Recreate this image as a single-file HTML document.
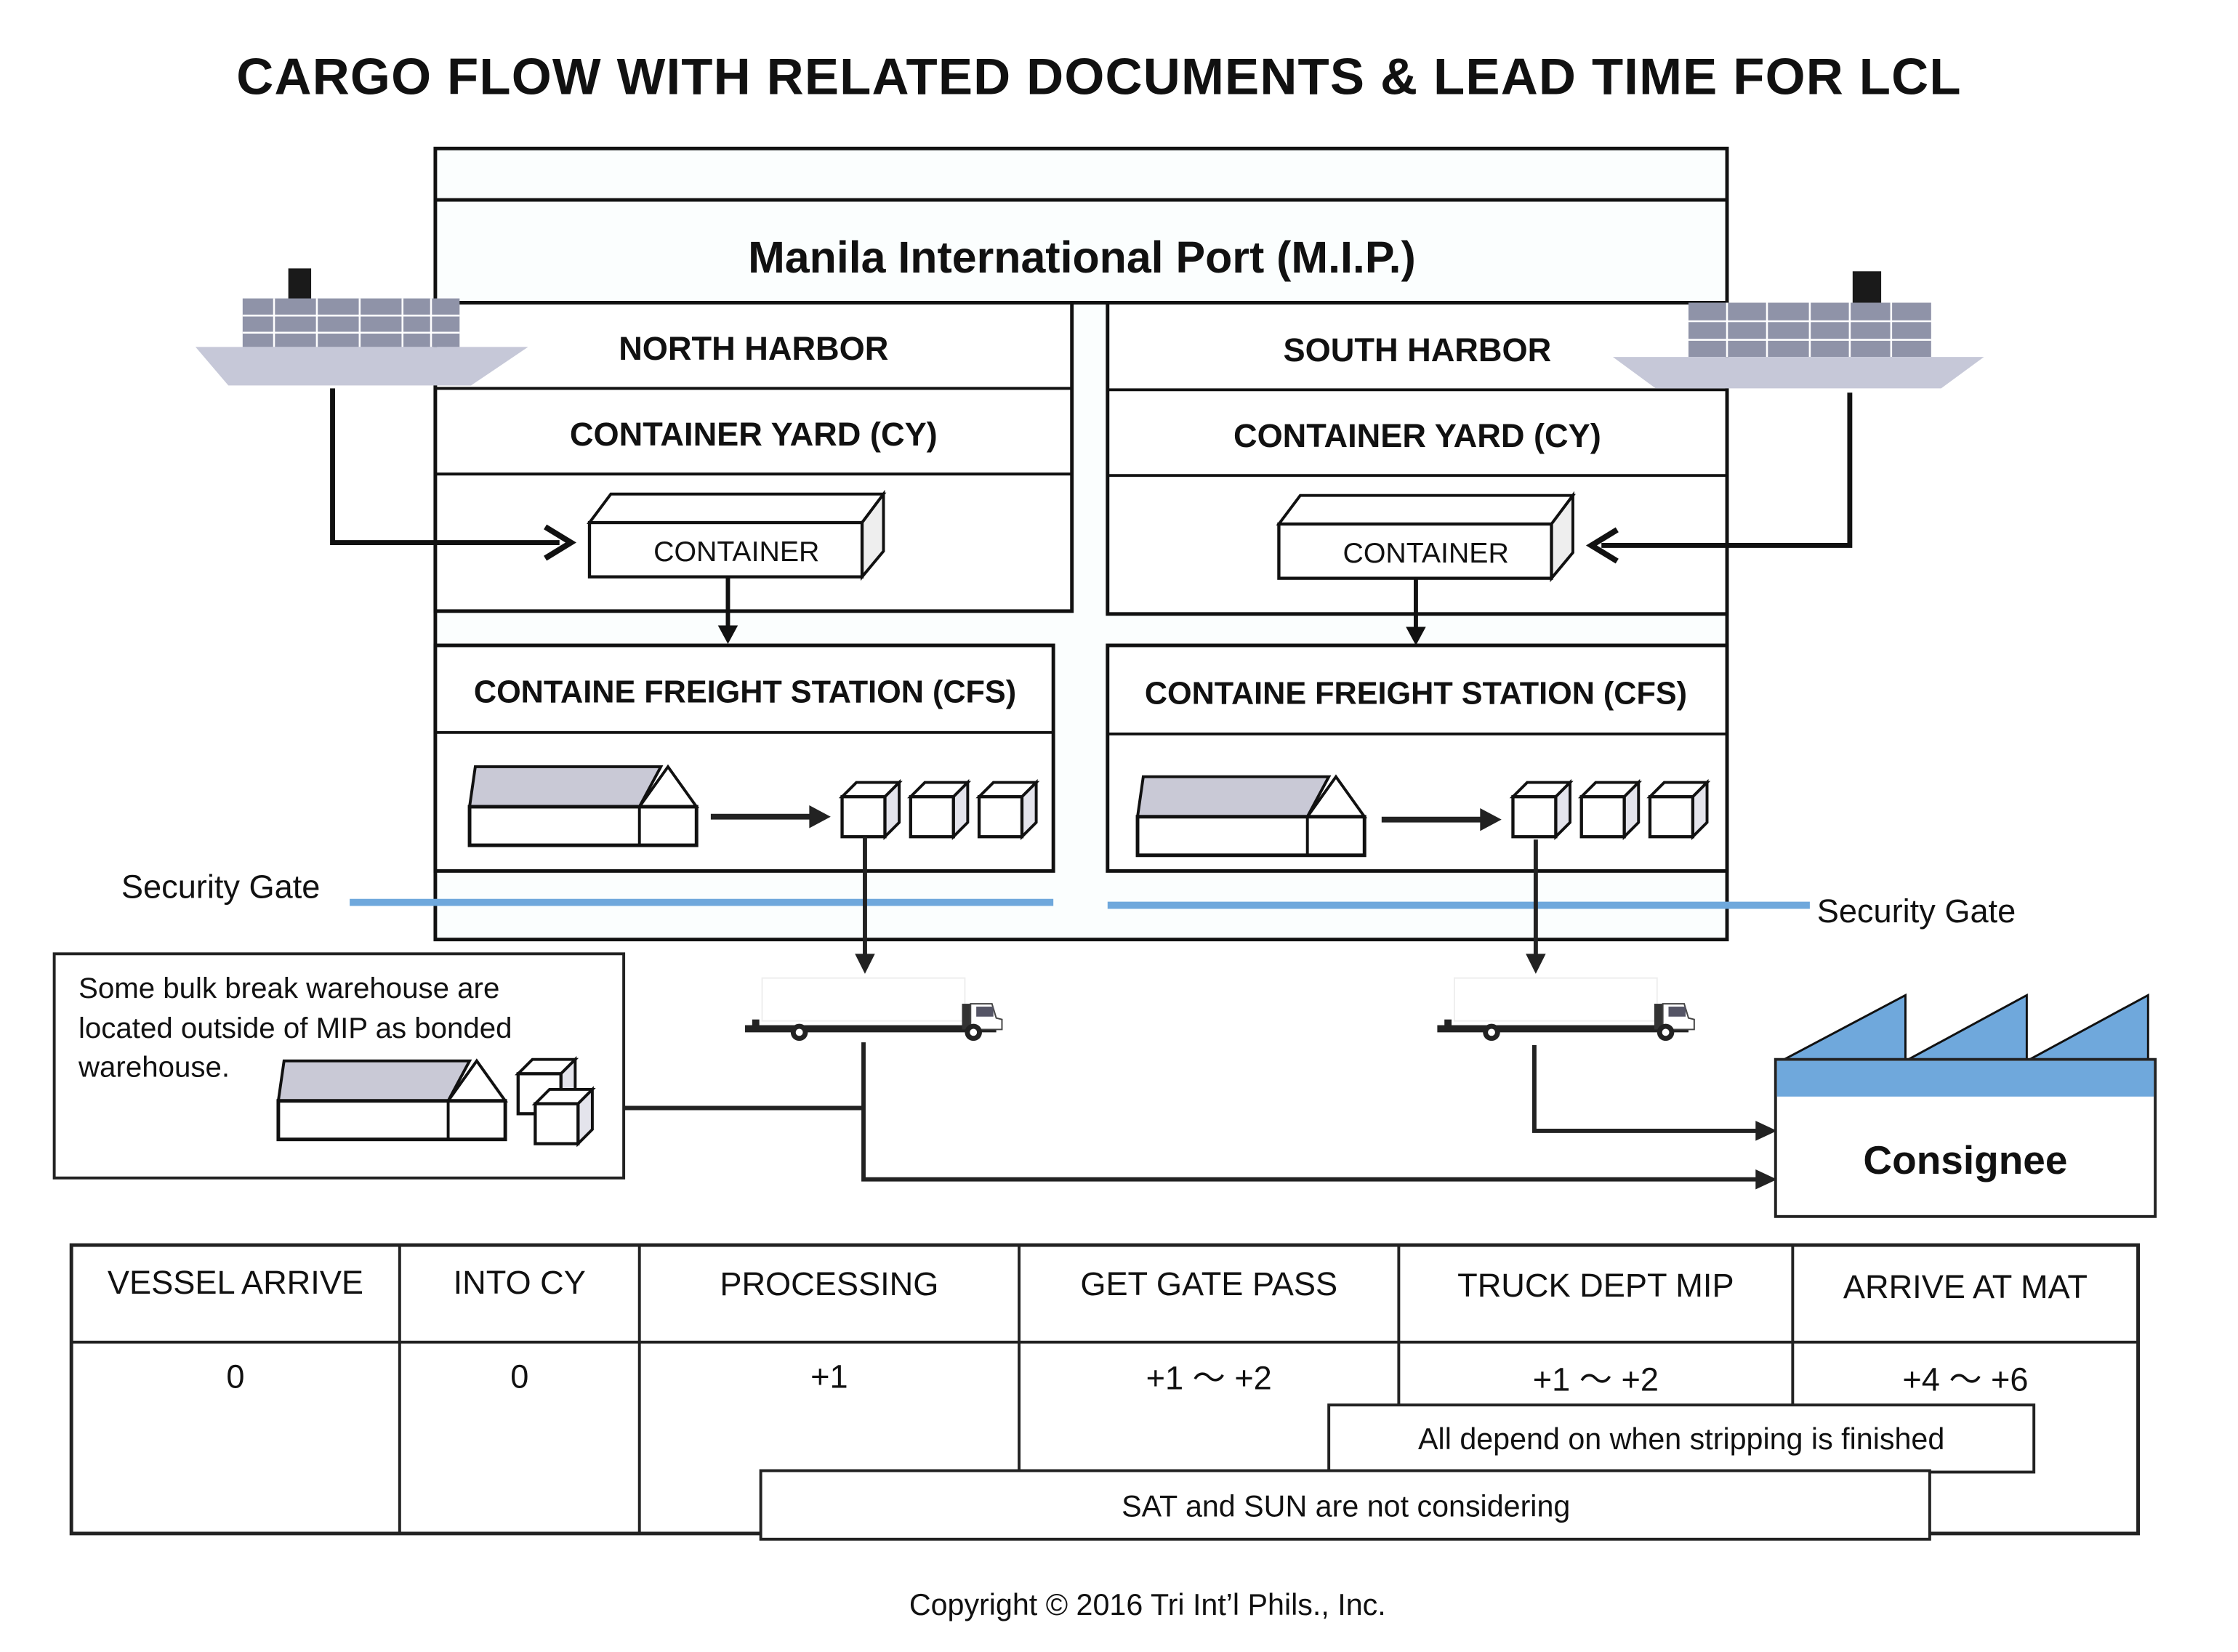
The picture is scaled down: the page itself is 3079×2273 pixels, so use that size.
<!DOCTYPE html>
<html><head><meta charset="utf-8"><style>
html,body{margin:0;padding:0;background:#fff;}
svg{display:block;}
text{font-family:"Liberation Sans",Arial,sans-serif;fill:#111;}
</style></head><body>
<svg width="3079" height="2273" viewBox="0 0 1568 1157" preserveAspectRatio="none" xmlns="http://www.w3.org/2000/svg">
<defs>
<g id="house">
  <polygon points="333,537 463,537 448,565 329,565" fill="#c9c9d6" stroke="#111" stroke-width="2"/>
  <polygon points="448,565 468,537 488,565" fill="#fff" stroke="#111" stroke-width="2"/>
  <rect x="329" y="565" width="159" height="27" fill="#fff" stroke="#111" stroke-width="2.5"/>
  <line x1="448" y1="565" x2="448" y2="592" stroke="#111" stroke-width="2"/>
</g>
<g id="cube">
  <polygon points="0,0 10,-10 40,-10 30,0" fill="#fff" stroke="#111" stroke-width="2"/>
  <polygon points="30,0 40,-10 40,18 30,28" fill="#e4e4ec" stroke="#111" stroke-width="2"/>
  <rect x="0" y="0" width="30" height="28" fill="#fff" stroke="#111" stroke-width="2.2"/>
</g>
<g id="truck">
  <rect x="12" y="2" width="142" height="30" fill="#fff" stroke="#eee" stroke-width="1"/>
  <rect x="0" y="35" width="176" height="5" fill="#222"/>
  <rect x="5" y="31" width="5" height="8" fill="#222"/>
  <rect x="152" y="20" width="6" height="18" fill="#333"/>
  <path d="M158,20 L173,20 L176,30 L180,31 L180,38 L158,38 Z" fill="#fff" stroke="#444" stroke-width="1"/>
  <rect x="162" y="22" width="12" height="7" fill="#556"/>
  <circle cx="38" cy="40" r="6" fill="#222"/><circle cx="38" cy="40" r="2.5" fill="#fff"/>
  <circle cx="160" cy="40" r="6" fill="#222"/><circle cx="160" cy="40" r="2.5" fill="#fff"/>
</g>
</defs>

<text x="770" y="66" font-size="36" font-weight="bold" text-anchor="middle" letter-spacing="0.6">CARGO FLOW WITH RELATED DOCUMENTS &amp; LEAD TIME FOR LCL</text>

<rect x="305" y="104" width="905" height="554" fill="#fbfefe" stroke="#111" stroke-width="2.5"/>
<line x1="305" y1="140" x2="1210" y2="140" stroke="#111" stroke-width="2.5"/>
<line x1="305" y1="212" x2="1210" y2="212" stroke="#111" stroke-width="2.5"/>
<text x="758" y="191" font-size="31" font-weight="bold" text-anchor="middle">Manila International Port (M.I.P.)</text>

<rect x="305" y="212" width="446" height="216" fill="#fff" stroke="#111" stroke-width="2.5"/>
<line x1="305" y1="272" x2="751" y2="272" stroke="#111" stroke-width="2"/>
<line x1="305" y1="332" x2="751" y2="332" stroke="#111" stroke-width="2"/>
<text x="528" y="252" font-size="23" font-weight="bold" text-anchor="middle">NORTH HARBOR</text>
<text x="528" y="312" font-size="23" font-weight="bold" text-anchor="middle">CONTAINER YARD (CY)</text>
<rect x="776" y="212" width="434" height="218" fill="#fff" stroke="#111" stroke-width="2.5"/>
<line x1="776" y1="273" x2="1210" y2="273" stroke="#111" stroke-width="2"/>
<line x1="776" y1="333" x2="1210" y2="333" stroke="#111" stroke-width="2"/>
<text x="993" y="253" font-size="23" font-weight="bold" text-anchor="middle">SOUTH HARBOR</text>
<text x="993" y="313" font-size="23" font-weight="bold" text-anchor="middle">CONTAINER YARD (CY)</text>

<g>
<polygon points="413,366 428,346 619,346 604,366" fill="#fff" stroke="#111" stroke-width="2"/>
<polygon points="604,366 619,346 619,386 604,404" fill="#eee" stroke="#111" stroke-width="2"/>
<rect x="413" y="366" width="191" height="38" fill="#fff" stroke="#111" stroke-width="2.2"/>
<text x="516" y="393" font-size="20" text-anchor="middle">CONTAINER</text>
</g>
<g transform="translate(483,1)">
<polygon points="413,366 428,346 619,346 604,366" fill="#fff" stroke="#111" stroke-width="2"/>
<polygon points="604,366 619,346 619,386 604,404" fill="#eee" stroke="#111" stroke-width="2"/>
<rect x="413" y="366" width="191" height="38" fill="#fff" stroke="#111" stroke-width="2.2"/>
<text x="516" y="393" font-size="20" text-anchor="middle">CONTAINER</text>
</g>

<line x1="510" y1="404" x2="510" y2="440" stroke="#111" stroke-width="3"/>
<polygon points="503,438 517,438 510,451" fill="#111"/>
<line x1="992" y1="405" x2="992" y2="441" stroke="#111" stroke-width="3"/>
<polygon points="985,439 999,439 992,452" fill="#111"/>

<rect x="305" y="452" width="433" height="158" fill="#fff" stroke="#111" stroke-width="2.5"/>
<line x1="305" y1="513" x2="738" y2="513" stroke="#111" stroke-width="2"/>
<text x="522" y="492" font-size="22" font-weight="bold" text-anchor="middle">CONTAINE FREIGHT STATION (CFS)</text>
<rect x="776" y="452" width="434" height="158" fill="#fff" stroke="#111" stroke-width="2.5"/>
<line x1="776" y1="514" x2="1210" y2="514" stroke="#111" stroke-width="2"/>
<text x="992" y="493" font-size="22" font-weight="bold" text-anchor="middle">CONTAINE FREIGHT STATION (CFS)</text>

<use href="#house"/>
<line x1="498" y1="572" x2="570" y2="572" stroke="#222" stroke-width="4"/>
<polygon points="567,564 582,572 567,580" fill="#222"/>
<use href="#cube" x="590" y="558"/>
<use href="#cube" x="638" y="558"/>
<use href="#cube" x="686" y="558"/>

<g transform="translate(468,7)">
<use href="#house"/>
<line x1="500" y1="567" x2="572" y2="567" stroke="#222" stroke-width="4"/>
<polygon points="569,559 584,567 569,575" fill="#222"/>
</g>
<use href="#cube" x="1060" y="558"/>
<use href="#cube" x="1108" y="558"/>
<use href="#cube" x="1156" y="558"/>

<line x1="245" y1="632" x2="738" y2="632" stroke="#6fa8dc" stroke-width="5"/>
<line x1="776" y1="634" x2="1268" y2="634" stroke="#6fa8dc" stroke-width="5"/>
<text x="85" y="629" font-size="23">Security Gate</text>
<text x="1273" y="646" font-size="23">Security Gate</text>

<g>
<rect x="202" y="188" width="16" height="22" fill="#1a1a1a"/>
<rect x="170" y="209" width="152" height="34" fill="#8f93a8"/>
<path d="M170,221 H322 M170,233 H322 M192,209 V243 M222,209 V243 M252,209 V243 M282,209 V243 M302,209 V243" stroke="#fff" stroke-width="1.3"/>
<polygon points="137,243 370,243 330,270 160,270" fill="#c6c8d8"/>
</g>
<g>
<rect x="1298" y="190" width="20" height="22" fill="#1a1a1a"/>
<rect x="1183" y="212" width="170" height="38" fill="#8f93a8"/>
<path d="M1183,225 H1353 M1183,238 H1353 M1210,212 V250 M1238,212 V250 M1268,212 V250 M1296,212 V250 M1325,212 V250" stroke="#fff" stroke-width="1.3"/>
<polygon points="1130,250 1390,250 1360,272 1160,272" fill="#c6c8d8"/>
</g>

<polyline points="233,272 233,380 392,380" fill="none" stroke="#111" stroke-width="3.5"/>
<polyline points="382,369 400,380 382,391" fill="none" stroke="#111" stroke-width="4"/>
<polyline points="1296,275 1296,382 1122,382" fill="none" stroke="#111" stroke-width="3.5"/>
<polyline points="1133,371 1115,382 1133,393" fill="none" stroke="#111" stroke-width="4"/>

<line x1="606" y1="586" x2="606" y2="670" stroke="#222" stroke-width="3"/>
<polygon points="599,668 613,668 606,682" fill="#222"/>
<line x1="1076" y1="588" x2="1076" y2="670" stroke="#222" stroke-width="3"/>
<polygon points="1069,668 1083,668 1076,682" fill="#222"/>

<use href="#truck" x="522" y="683"/>
<use href="#truck" x="1007" y="683"/>

<rect x="38" y="668" width="399" height="157" fill="#fff" stroke="#222" stroke-width="2"/>
<text x="55" y="699" font-size="20.5">Some bulk break warehouse are</text>
<text x="55" y="727" font-size="20.5">located outside of MIP as bonded</text>
<text x="55" y="754" font-size="20.5">warehouse.</text>
<g transform="translate(-134,206)">
<use href="#house"/>
</g>
<use href="#cube" x="363" y="752"/>
<use href="#cube" x="375" y="773"/>

<line x1="437" y1="776" x2="606" y2="776" stroke="#222" stroke-width="3"/>
<polyline points="605,730 605,826 1232,826" fill="none" stroke="#222" stroke-width="3"/>
<polygon points="1230,819 1245,826 1230,833" fill="#222"/>
<polyline points="1075,732 1075,792 1232,792" fill="none" stroke="#222" stroke-width="3"/>
<polygon points="1230,785 1245,792 1230,799" fill="#222"/>

<polygon points="1250,742 1335,697 1335,742" fill="#6fa8dc" stroke="#111" stroke-width="1.5"/>
<polygon points="1337,742 1420,697 1420,742" fill="#6fa8dc" stroke="#111" stroke-width="1.5"/>
<polygon points="1422,742 1505,697 1505,742" fill="#6fa8dc" stroke="#111" stroke-width="1.5"/>
<rect x="1244" y="742" width="266" height="110" fill="#fff" stroke="#222" stroke-width="2"/>
<rect x="1245" y="743" width="264" height="25" fill="#6fa8dc"/>
<text x="1377" y="822" font-size="28" font-weight="bold" text-anchor="middle">Consignee</text>

<rect x="50" y="872" width="1448" height="202" fill="#fff" stroke="#222" stroke-width="2.5"/>
<line x1="50" y1="940" x2="1498" y2="940" stroke="#222" stroke-width="2"/>
<g stroke="#222" stroke-width="2">
<line x1="280" y1="872" x2="280" y2="1074"/>
<line x1="448" y1="872" x2="448" y2="1074"/>
<line x1="714" y1="872" x2="714" y2="1074"/>
<line x1="980" y1="872" x2="980" y2="1074"/>
<line x1="1256" y1="872" x2="1256" y2="1074"/>
</g>
<g font-size="23" text-anchor="middle">
<text x="165" y="906">VESSEL ARRIVE</text>
<text x="364" y="906">INTO CY</text>
<text x="581" y="907">PROCESSING</text>
<text x="847" y="907">GET GATE PASS</text>
<text x="1118" y="908">TRUCK DEPT MIP</text>
<text x="1377" y="909">ARRIVE AT MAT</text>
<text x="165" y="972">0</text>
<text x="364" y="972">0</text>
<text x="581" y="972">+1</text>
<text x="847" y="973">+1 ～ +2</text>
<text x="1118" y="974">+1 ～ +2</text>
<text x="1377" y="974">+4 ～ +6</text>
</g>
<rect x="931" y="984" width="494" height="47" fill="#fff" stroke="#222" stroke-width="2"/>
<text x="1178" y="1015" font-size="21" text-anchor="middle">All depend on when stripping is finished</text>
<rect x="533" y="1030" width="819" height="48" fill="#fff" stroke="#222" stroke-width="2"/>
<text x="943" y="1062" font-size="21" text-anchor="middle">SAT and SUN are not considering</text>

<text x="804" y="1131" font-size="21" text-anchor="middle">Copyright © 2016 Tri Int’l Phils., Inc.</text>
</svg>
</body></html>
